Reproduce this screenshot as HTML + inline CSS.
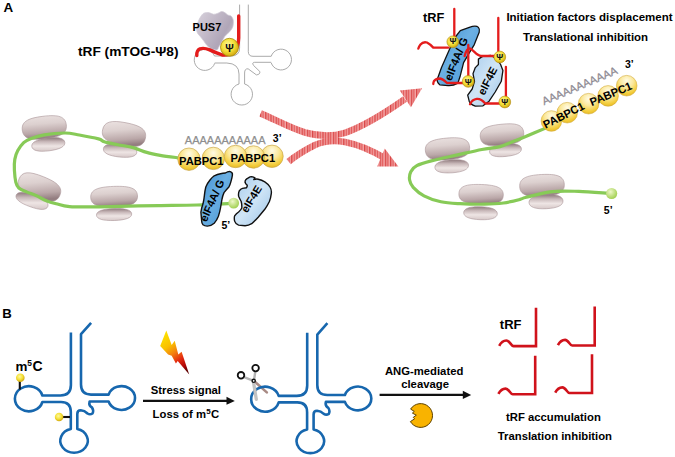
<!DOCTYPE html>
<html><head><meta charset="utf-8">
<style>
html,body{margin:0;padding:0;background:#fff;}
body{width:675px;height:457px;overflow:hidden;}
svg{display:block;}
text{font-family:"Liberation Sans",sans-serif;}
.b{font-weight:bold;}
</style></head>
<body>
<svg width="675" height="457" viewBox="0 0 675 457">
<defs>
  <linearGradient id="pus" x1="0" y1="0" x2="1" y2="0.6">
    <stop offset="0" stop-color="#d8d2dc"/>
    <stop offset="0.45" stop-color="#c2b9c8"/>
    <stop offset="0.8" stop-color="#b0a6b8"/>
    <stop offset="1" stop-color="#c4bcc9"/>
  </linearGradient>
  <linearGradient id="ribL" x1="0" y1="0" x2="0.15" y2="1">
    <stop offset="0" stop-color="#ebe2e1"/>
    <stop offset="0.4" stop-color="#dcd0cf"/>
    <stop offset="0.78" stop-color="#baa7a8"/>
    <stop offset="1" stop-color="#947e81"/>
  </linearGradient>
  <linearGradient id="ribS" x1="0" y1="0" x2="0" y2="1">
    <stop offset="0" stop-color="#8d787b"/>
    <stop offset="0.3" stop-color="#c8b8b9"/>
    <stop offset="0.62" stop-color="#eee5e4"/>
    <stop offset="1" stop-color="#d6c8c8"/>
  </linearGradient>
  <radialGradient id="yel" cx="0.42" cy="0.38" r="0.62">
    <stop offset="0" stop-color="#fdf7a0"/>
    <stop offset="0.55" stop-color="#f5e23a"/>
    <stop offset="1" stop-color="#d2a810"/>
  </radialGradient>
  <radialGradient id="pab" cx="0.5" cy="0.32" r="0.72" fx="0.5" fy="0.25">
    <stop offset="0" stop-color="#fffbe6"/>
    <stop offset="0.45" stop-color="#fbe89a"/>
    <stop offset="0.8" stop-color="#f3cc3a"/>
    <stop offset="1" stop-color="#e2b420"/>
  </radialGradient>
  <radialGradient id="gball" cx="0.4" cy="0.35" r="0.65">
    <stop offset="0" stop-color="#eef8c8"/>
    <stop offset="1" stop-color="#a2d052"/>
  </radialGradient>
  <linearGradient id="blueD" x1="0" y1="0" x2="1" y2="1">
    <stop offset="0" stop-color="#3b8cd0"/>
    <stop offset="0.45" stop-color="#6cb0e3"/>
    <stop offset="0.7" stop-color="#5aa3dc"/>
    <stop offset="1" stop-color="#3f8ed2"/>
  </linearGradient>
  <linearGradient id="blueL" x1="0" y1="0" x2="1" y2="1">
    <stop offset="0" stop-color="#a6cbec"/>
    <stop offset="0.5" stop-color="#d0e5f6"/>
    <stop offset="1" stop-color="#9cc4e8"/>
  </linearGradient>
  <linearGradient id="bolt" x1="0.25" y1="0" x2="0.75" y2="1">
    <stop offset="0" stop-color="#fde200"/>
    <stop offset="0.3" stop-color="#f9c000"/>
    <stop offset="0.5" stop-color="#f38010"/>
    <stop offset="0.7" stop-color="#e42a10"/>
    <stop offset="0.88" stop-color="#b00808"/>
    <stop offset="1" stop-color="#600000"/>
  </linearGradient>
  <pattern id="stripe" width="5.2" height="10" patternUnits="userSpaceOnUse">
    <rect width="5.2" height="10" fill="#f2a4a4"/>
    <rect x="0" width="1.3" height="10" fill="#d94444"/>
    <rect x="2.4" width="1.1" height="10" fill="#e25a5a"/>
    <rect x="3.5" width="0.8" height="10" fill="#ee8a8a"/>
  </pattern>
</defs>

<!-- ============ PANEL A ============ -->
<text x="3.6" y="12.2" class="b" font-size="13.4">A</text>

<!-- tRNA (grey thin) -->
<g fill="none" stroke="#a0a0a0" stroke-width="0.9">
  <path d="M239.6 4.6 V48 Q239.6 56 231 56 H214.5"/>
  <path d="M214.7 63.3 A10.5 10.5 0 1 1 214.5 56"/>
  <path d="M214.7 63 H226.8 Q239 63.5 239 74 V84"/>
  <path d="M239 84 A10.7 10.7 0 1 0 244.6 84"/>
  <path d="M244.6 84 V73 Q244.6 68.5 248.1 68.8 L256.4 74.9 Q260.4 74.5 259.8 71.5 L253.6 65.5 Q251.5 62.3 254.7 62.3 H271.2"/>
  <path d="M271.2 62.8 A10.4 10.4 0 1 0 271.2 56.3"/>
  <path d="M271.2 56.3 H253 Q248.3 56.3 248.3 51.5 V4.6"/>
</g>

<!-- PUS7 blob -->
<path d="M203.8 13.2 C205.2 12.5 207.6 12.5 209.2 12.7 C210.8 12.9 212.1 14.2 213.6 14.3 C215.1 14.4 216.7 13.6 218.0 13.2 C219.3 12.8 220.3 11.8 221.3 11.6 C222.3 11.4 222.9 11.5 224.0 12.1 C225.1 12.7 226.6 14.2 227.8 14.9 C229.0 15.6 230.2 15.1 231.1 16.0 C232.0 16.9 233.0 18.5 233.3 20.3 C233.6 22.1 233.4 25.1 232.8 26.9 C232.2 28.7 230.8 30.2 230.0 31.3 C229.2 32.4 228.7 32.6 227.8 33.5 C226.9 34.4 225.5 35.5 224.6 36.8 C223.7 38.1 223.3 39.5 222.4 41.1 C221.5 42.7 220.0 45.1 219.1 46.6 C218.2 48.1 218.2 49.5 216.9 49.9 C215.6 50.3 213.1 49.5 211.4 48.8 C209.8 48.1 208.3 46.8 207.0 45.5 C205.7 44.2 204.9 42.6 203.8 41.1 C202.7 39.6 201.6 38.2 200.5 36.8 C199.4 35.3 197.8 34.0 197.2 32.4 C196.5 30.8 196.4 28.7 196.6 26.9 C196.8 25.1 197.7 23.0 198.3 21.4 C199.0 19.8 199.6 18.4 200.5 17.0 C201.4 15.6 202.4 13.9 203.8 13.2 Z" fill="url(#pus)" stroke="#d0cad6" stroke-width="0.7"/>
<text x="192.6" y="30.5" class="b" font-size="11">PUS7</text>

<!-- red tRF on tRNA -->
<path d="M238.7 16 V38 Q238.4 48 234 52 Q229.4 55.5 222.8 55.1 Q216 53 209.7 49.9 Q204 47.5 200 48.8 Q196.5 50.5 196.8 55.5" fill="none" stroke="#e41c1c" stroke-width="3.4" stroke-linecap="round"/>
<circle cx="229.5" cy="47.3" r="9" fill="url(#yel)" stroke="#a88808" stroke-width="0.8"/>
<text x="229.6" y="51.6" font-size="10.5" class="b" text-anchor="middle" fill="#111">Ψ</text>

<text x="78" y="56.3" class="b" font-size="13.7">tRF (mTOG-Ψ8)</text>

<!-- crossing arrows -->
<g fill="none" stroke="url(#stripe)" stroke-width="6.6">
  <path d="M260.6 113.4 C 275 119.5, 290 128, 305 132.5 C 318 136, 332 137, 345 132.8 C 362 127, 385 113, 405 99"/>
  <path d="M288.6 161.6 C 296 155.5, 305 150, 315 145 C 325 140.5, 335 140.2, 345 142 C 358 144.5, 372 150.5, 386 158.8"/>
</g>
<g fill="url(#stripe)">
  <polygon points="399.8,90.4 422.1,88.3 410.9,107.2"/>
  <polygon points="384.7,148.4 398.4,166.5 377.2,166.5"/>
</g>

<!-- Left mRNA ribosomes -->
<g stroke="#a89296" stroke-width="0.6">
<path d="M66.3 124.8 C65.3 116.7 58.8 114.3 42.9 116.3 C27.1 118.2 21.3 122.1 22.3 130.2 C23.3 138.3 29.8 140.7 45.7 138.7 C61.5 136.8 67.3 132.9 66.3 124.8Z" fill="url(#ribL)"/>
<path d="M64.8 142.4 C64.3 138.2 58.2 136.7 47.5 138.0 C36.8 139.4 31.3 142.3 31.8 146.4 C32.3 150.6 38.4 152.1 49.1 150.8 C59.8 149.4 65.3 146.5 64.8 142.4Z" fill="url(#ribS)"/>
<path d="M145.4 138.2 C147.0 130.1 141.6 125.8 126.2 122.8 C110.8 119.8 104.2 121.8 102.6 129.8 C101.0 137.9 106.4 142.2 121.8 145.2 C137.2 148.2 143.8 146.2 145.4 138.2Z" fill="url(#ribL)"/>
<path d="M136.8 152.3 C137.2 148.1 131.6 145.2 120.8 144.0 C109.9 142.9 103.8 144.5 103.4 148.7 C103.0 152.9 108.6 155.8 119.4 157.0 C130.3 158.1 136.4 156.5 136.8 152.3Z" fill="url(#ribS)"/>
<path d="M59.9 195.2 C62.9 187.9 58.3 182.7 43.6 176.8 C28.9 170.9 22.1 171.4 19.1 178.8 C16.1 186.1 20.7 191.3 35.4 197.2 C50.1 203.1 56.9 202.6 59.9 195.2Z" fill="url(#ribL)"/>
<path d="M47.8 206.5 C49.2 202.8 44.4 198.7 34.1 195.0 C23.9 191.2 17.6 191.3 16.2 195.1 C14.8 198.8 19.6 202.9 29.9 206.6 C40.1 210.4 46.4 210.3 47.8 206.5Z" fill="url(#ribS)"/>
<path d="M137.5 195.9 C137.2 188.5 130.6 185.8 113.7 186.4 C96.9 187.0 90.5 190.1 90.7 197.5 C91.0 204.9 97.6 207.6 114.5 207.0 C131.3 206.4 137.7 203.3 137.5 195.9Z" fill="url(#ribL)"/>
<path d="M131.7 213.9 C131.6 210.0 125.3 208.1 113.9 208.5 C102.5 208.9 96.4 211.2 96.5 215.1 C96.6 219.0 102.9 220.9 114.3 220.5 C125.7 220.1 131.8 217.8 131.7 213.9Z" fill="url(#ribS)"/>
</g>
<path d="M178.0 157.8 C175.0 157.4 165.4 156.2 160.2 155.3 C155.0 154.4 151.2 153.7 146.7 152.4 C142.2 151.1 138.0 148.9 133.2 147.6 C128.4 146.3 122.6 145.7 117.8 144.7 C113.0 143.7 107.5 142.8 104.3 141.8 C101.1 140.8 102.7 140.0 98.5 138.9 C94.3 137.8 84.9 136.0 79.3 135.0 C73.7 134.0 70.8 133.0 65.0 133.0 C59.2 133.0 50.0 133.8 44.3 134.8 C38.6 135.8 34.0 137.5 30.6 138.8 C27.2 140.1 25.8 140.7 23.7 142.7 C21.6 144.7 19.3 147.8 17.8 150.6 C16.3 153.4 15.4 156.1 14.8 159.4 C14.2 162.7 14.2 166.4 14.4 170.2 C14.6 174.0 15.1 179.1 15.8 182.1 C16.5 185.1 17.0 186.4 18.8 188.0 C20.6 189.6 23.7 190.6 26.6 191.9 C29.6 193.2 33.2 194.3 36.5 195.8 C39.8 197.3 43.0 199.4 46.3 200.7 C49.6 202.0 52.3 202.7 56.2 203.7 C60.1 204.7 62.4 206.1 69.6 206.6 C76.8 207.1 89.4 206.9 99.3 206.8 C109.2 206.7 119.0 206.3 128.9 206.1 C138.8 205.9 147.2 205.8 158.5 205.6 C169.8 205.4 184.6 205.4 197.0 205.0 C209.4 204.6 227.0 203.6 233.0 203.3" fill="none" stroke="#87ca57" stroke-width="3.2" stroke-linecap="round" stroke-linejoin="round"/>

<!-- PABPC1 left -->
<text x="184.8" y="143.5" font-size="11" fill="#8e8e8e" stroke="#8e8e8e" stroke-width="0.25">AAAAAAAAAAA</text>
<text x="272.8" y="141.6" class="b" font-size="10.5">3’</text>
<g fill="url(#pab)" stroke="#c9a850" stroke-width="0.7">
  <circle cx="189" cy="159.2" r="11.2"/>
  <circle cx="213.3" cy="158.4" r="11.2"/>
  <circle cx="272" cy="156.3" r="11.2"/>
  <circle cx="253.5" cy="157" r="11.2"/>
  <circle cx="235.5" cy="156.5" r="11.2"/>
</g>
<text x="179" y="164.6" class="b" font-size="11.2">PABPC1</text>
<text x="230.6" y="161.8" class="b" font-size="11.2">PABPC1</text>

<!-- eIF4A/G left -->
<path d="M230.3 171.6 Q232.8 172.5 232.4 175.1 Q232 178 231 181.4 Q230.2 184.5 228.9 187 Q226 190 224 192.6 Q222.5 196 221.9 199.6 L220.5 208 Q219.7 212.5 218.4 216.3 Q216.8 220.5 214.2 223.3 Q211 226.2 207.2 226.1 Q204.5 226 203 224.7 Q201.6 223 201.6 220.5 L200.9 212.2 Q201.5 208 203 203.8 Q204 199.5 204.4 195.4 Q204.8 191 205.8 187 Q207.5 183 210 180 Q212 177.5 214.2 175.8 Q217.5 174.3 220.5 173.7 Q223 173.3 225.4 173 Q228 171.3 230.3 171.6 Z" fill="url(#blueD)" stroke="#111" stroke-width="1.4" stroke-linejoin="round"/>
<text transform="translate(206.6 222.4) rotate(-66.2)" class="b" font-size="11">eIF4A/ G</text>
<!-- eIF4E left -->
<path d="M251.7 176.6 Q253.6 176.8 254.9 177.9 L253.8 179.6 Q256 178.8 258.2 179.2 Q261.8 180 264.8 181.8 Q268.2 184 270 187 Q271.8 190 271.3 193.6 Q270.8 197.8 269.4 201.5 Q267.5 205.5 264.8 209.3 L258.2 217.2 Q255 220.8 251.7 223.7 Q248.5 225.6 245.1 225.7 L238.6 225.1 Q235.5 224 234.6 221.1 Q234 218 234.6 215.9 Q236.3 213.5 238.6 212 Q240.8 210 241.8 208 Q242 204.5 241.2 201.5 Q239.7 198.8 238.6 196.2 Q238.2 193 239.2 191 Q240.6 189 242.5 188.4 L246.4 187.7 Q247.6 186.2 247.1 185.1 Q245.6 184 245.1 182.5 Q244.9 180.8 245.8 179.8 Q247 178.5 248.4 177.9 Q250 176.6 251.7 176.6 Z" fill="url(#blueL)" stroke="#111" stroke-width="1.4" stroke-linejoin="round"/>
<text transform="translate(246.9 213.6) rotate(-58.4)" class="b" font-size="11">eIF4E</text>
<circle cx="233.7" cy="203.1" r="5.4" fill="url(#gball)"/>
<text x="221.5" y="228.5" class="b" font-size="10.5">5’</text>

<!-- Right side: tRF + factors -->
<text x="423" y="22.2" class="b" font-size="12.8">tRF</text>
<text x="506.4" y="20.8" class="b" font-size="11.5">Initiation factors displacement</text>
<text x="522.9" y="40.6" class="b" font-size="11.45">Translational inhibition</text>

<path d="M469.3 27.4 Q476 25 478.4 27.4 Q480 29 479.2 32.3 L474.3 44.6 L469.3 52.8 L463.6 62.6 L460.3 75.7 L457.9 83.1 Q453 86 448 85.6 L439.8 84.8 Q436.5 82 437.4 79 L441.5 67.5 L448 52.8 L454.6 38 L460.3 30.7 Z" fill="url(#blueD)" stroke="#111" stroke-width="1.3" stroke-linejoin="round"/>
<text transform="translate(451.2 81.4) rotate(-68)" class="b" font-size="11.2">eIF4A/ G</text>
<path d="M478.4 59.1 L483 56.1 L490.6 55.3 Q497 58 500.6 64.5 L502.9 70.6 L501.3 81.3 L495.2 92 L489.1 101.2 L483 105.8 L475.3 106.1 Q470 104 469.2 101.2 L467.7 95.1 L472.2 89 L474.5 81.3 L473 73.7 L475.3 67.6 L478.4 64.5 Z" fill="url(#blueL)" stroke="#111" stroke-width="1.3" stroke-linejoin="round"/>
<text transform="translate(484.2 96) rotate(-63)" class="b" font-size="11.2">eIF4E</text>

<g fill="none" stroke="#e41c1c" stroke-width="2.3" stroke-linecap="round" stroke-linejoin="round">
  <path d="M454.3 9 V38 M448.5 47.6 H433.3 Q430 44 427 42.5 Q423 41.5 420.5 44.5 Q419 46.5 418.3 48.6"/>
  <path d="M468.3 45 V80 M463 83 H447 Q443 79 440 78.5 Q436 78.5 434 81 Q433.3 82.5 433.3 84"/>
  <path d="M498.3 18 V56 M495 56 H481 C477.5 55.8 474.5 51.5 471 49 C468 47 465.8 51.5 464.6 56"/>
  <path d="M505.9 66.8 V101 M500 103.5 H485.3 Q481 98.5 476.8 98.9 Q472 99.5 470 104.3"/>
</g>
<g fill="url(#yel)" stroke="#b08a10" stroke-width="0.6">
  <circle cx="452.8" cy="41.8" r="5.9"/>
  <circle cx="468.2" cy="81.4" r="5.9"/>
  <circle cx="499.8" cy="57" r="5.9"/>
  <circle cx="504.8" cy="102" r="5.9"/>
</g>
<g font-size="8.6" class="b" text-anchor="middle" fill="#111">
  <text x="453" y="44.4">Ψ</text>
  <text x="468.2" y="84.5">Ψ</text>
  <text x="499.8" y="60.1">Ψ</text>
  <text x="504.8" y="105.1">Ψ</text>
</g>

<!-- Right mRNA -->
<g stroke="#a89296" stroke-width="0.6">
<path d="M469.6 147.0 C468.9 139.2 462.5 136.7 446.6 138.1 C430.6 139.5 424.7 143.1 425.4 150.8 C426.1 158.6 432.5 161.1 448.4 159.7 C464.4 158.3 470.3 154.7 469.6 147.0Z" fill="url(#ribL)"/>
<path d="M468.5 165.1 C468.2 160.9 462.1 159.1 451.2 159.8 C440.4 160.6 434.6 163.3 434.9 167.5 C435.2 171.7 441.3 173.5 452.2 172.8 C463.0 172.0 468.8 169.3 468.5 165.1Z" fill="url(#ribS)"/>
<path d="M523.7 132.5 C522.9 124.9 516.5 122.6 500.9 124.3 C485.3 125.9 479.5 129.5 480.3 137.1 C481.1 144.7 487.5 147.0 503.1 145.3 C518.7 143.7 524.5 140.1 523.7 132.5Z" fill="url(#ribL)"/>
<path d="M521.4 148.6 C521.0 144.7 515.2 143.1 504.9 144.2 C494.5 145.3 489.2 148.0 489.6 152.0 C490.0 155.9 495.8 157.5 506.1 156.4 C516.5 155.3 521.8 152.6 521.4 148.6Z" fill="url(#ribS)"/>
<path d="M503.3 195.3 C503.5 188.1 497.4 185.1 481.4 184.5 C465.5 183.9 459.2 186.5 458.9 193.7 C458.7 200.9 464.8 203.9 480.8 204.5 C496.7 205.1 503.0 202.5 503.3 195.3Z" fill="url(#ribL)"/>
<path d="M497.3 213.8 C497.4 209.6 491.6 207.1 480.7 206.7 C469.8 206.3 463.9 208.4 463.7 212.6 C463.6 216.8 469.4 219.3 480.3 219.7 C491.2 220.1 497.1 218.0 497.3 213.8Z" fill="url(#ribS)"/>
<path d="M564.3 184.3 C563.9 176.4 557.5 173.7 541.4 174.5 C525.4 175.4 519.3 178.8 519.7 186.7 C520.1 194.6 526.5 197.3 542.6 196.5 C558.6 195.6 564.7 192.2 564.3 184.3Z" fill="url(#ribL)"/>
<path d="M563.0 200.8 C562.7 196.3 556.7 194.1 545.6 194.7 C534.6 195.3 528.8 198.0 529.0 202.6 C529.3 207.1 535.3 209.3 546.4 208.7 C557.4 208.1 563.2 205.4 563.0 200.8Z" fill="url(#ribS)"/>
</g>
<path d="M545.0 128.4 C541.9 129.7 531.6 134.1 526.3 136.3 C521.0 138.5 517.5 139.8 513.1 141.5 C508.7 143.2 505.2 145.3 500.0 146.6 C494.8 147.9 488.9 148.1 481.8 149.5 C474.8 150.9 466.1 153.0 457.7 154.9 C449.3 156.8 438.1 159.1 431.3 160.9 C424.5 162.7 420.2 163.9 416.8 165.7 C413.4 167.5 412.0 169.3 410.8 171.7 C409.6 174.1 409.2 177.5 409.6 180.1 C410.0 182.7 410.8 184.7 413.2 187.3 C415.6 189.9 419.4 193.4 424.0 195.8 C428.6 198.2 434.9 200.5 440.9 201.8 C446.9 203.1 452.9 203.3 460.1 203.7 C467.3 204.1 477.0 204.3 484.2 204.2 C491.4 204.1 497.4 203.8 503.4 203.0 C509.4 202.2 516.2 200.4 520.0 199.4 C523.8 198.4 520.9 198.5 526.3 197.2 C531.7 195.9 543.8 192.6 552.5 191.6 C561.2 190.6 568.9 191.1 578.8 191.4 C588.6 191.7 606.1 193.2 611.6 193.5" fill="none" stroke="#87ca57" stroke-width="3.2" stroke-linecap="round" stroke-linejoin="round"/>
<circle cx="611.6" cy="193.5" r="5.6" fill="url(#gball)"/>
<text x="603.8" y="213.5" class="b" font-size="10.5">5’</text>

<text transform="translate(544 105.2) rotate(-23.2)" font-size="11" fill="#8e8a92" stroke="#8e8a92" stroke-width="0.25">AAAAAAAAAAA</text>
<text x="625" y="68.4" class="b" font-size="10.5">3’</text>
<g fill="url(#pab)" stroke="#d4ab3a" stroke-width="0.6">
  <circle cx="551.4" cy="121" r="10.3"/>
  <circle cx="567.2" cy="112.7" r="10.3"/>
  <circle cx="588.6" cy="103.7" r="10.3"/>
  <circle cx="608.1" cy="95.9" r="10.3"/>
  <circle cx="626.7" cy="85.7" r="10.3"/>
</g>
<text transform="translate(545.6 128.8) rotate(-27)" class="b" font-size="11.2">PABPC1</text>
<text transform="translate(591.8 106.2) rotate(-23)" class="b" font-size="11.2">PABPC1</text>

<!-- ============ PANEL B ============ -->
<text x="2.2" y="317.6" class="b" font-size="13.2">B</text>

<!-- tRNA 1 -->
<g fill="none" stroke="#1767ae" stroke-width="2.6" stroke-linejoin="round">
  <path d="M70.9 332.4 V385 Q70.9 395.5 60.4 395.5 H42.4 A14 12.5 0 1 0 42.4 402 H61 Q70.8 402 70.8 411.8 V429.1 A13.75 12 0 1 0 77.3 429.1 V414 Q77.3 410.3 80.8 410.3 Q84.5 410.5 87.5 413.5 Q90 415 92.5 413.5 Q94 410.5 92 407.5 Q88.5 405.5 89.6 401.5 H108.6 A13.5 11.9 0 1 0 108.6 394.6 H91 Q81 394.6 81 384.6 V334.2 L91.1 322.8"/>
</g>
<path d="M19.8 380.5 V389.5" stroke="#111" stroke-width="2.1"/>
<circle cx="20.3" cy="377.7" r="4.3" fill="url(#yel)"/>
<path d="M62 417 H70" stroke="#111" stroke-width="2.1"/>
<circle cx="59.1" cy="417" r="4.3" fill="url(#yel)"/>
<text x="15.6" y="370.7" class="b" font-size="13.4">m<tspan font-size="8.4" dy="-4.4" dx="-0.2">5</tspan><tspan dy="4.4" dx="0.6" font-size="14">C</tspan></text>

<!-- lightning -->
<polygon points="166.3,330.4 171.7,344.9 174.7,340.7 178.3,354.5 181.6,351.7 189.2,374.4 177.7,361.1 175.9,363.6 171.7,355.7 168.1,354.5 160.2,346.1" fill="url(#bolt)"/>

<text x="150.7" y="393.5" class="b" font-size="11.3">Stress signal</text>
<path d="M143 400.9 H228" stroke="#111" stroke-width="2.4"/>
<polygon points="226.5,396.8 234.8,400.9 226.5,404.8" fill="#111"/>
<text x="152.6" y="418" class="b" font-size="11.3">Loss of m<tspan font-size="8" dy="-4.2" dx="0.3">5</tspan><tspan dy="4.2" dx="0.4">C</tspan></text>

<!-- tRNA 2 -->
<path d="M254.6 381.5 L266.8 392.4" stroke="#a88a84" stroke-width="2.6" fill="none" stroke-linecap="round"/>
<g transform="translate(236.3 0.4)" fill="none" stroke="#1767ae" stroke-width="2.6" stroke-linejoin="round">
  <path d="M70.9 332.4 V385 Q70.9 395.5 60.4 395.5 H42.4 A14 12.5 0 1 0 42.4 402 H61 Q70.8 402 70.8 411.8 V429.1 A13.75 12 0 1 0 77.3 429.1 V414 Q77.3 410.3 80.8 410.3 Q84.5 410.5 87.5 413.5 Q90 415 92.5 413.5 Q94 410.5 92 407.5 Q88.5 405.5 89.6 401.5 H108.6 A13.5 11.9 0 1 0 108.6 394.6 H91 Q81 394.6 81 384.6 V334.2 L91.1 322.8"/>
</g>
<!-- scissors -->
<g>
  <path d="M253.4 381.5 L256.3 399.3" stroke="#c2c2c2" stroke-width="3.3" fill="none" stroke-linecap="round"/>
  <path d="M243.5 376.8 L253.5 380.8" stroke="#b4b4b4" stroke-width="2.4" fill="none" stroke-linecap="round"/>
  <path d="M255.3 371.5 L254 380.5" stroke="#b4b4b4" stroke-width="2.4" fill="none" stroke-linecap="round"/>
  <circle cx="241" cy="375.3" r="3.3" fill="#fff" stroke="#111" stroke-width="1.8"/>
  <circle cx="255.6" cy="368.1" r="3.3" fill="#fff" stroke="#111" stroke-width="1.8"/>
  <circle cx="253.7" cy="380.8" r="1.6" fill="#fff" stroke="#111" stroke-width="1.4"/>
</g>

<text x="384.9" y="375.1" class="b" font-size="11.3">ANG-mediated</text>
<text x="401.2" y="388.3" class="b" font-size="11.3">cleavage</text>
<path d="M379.6 394.9 H464" stroke="#111" stroke-width="2.4"/>
<polygon points="462.8,390.8 471.2,394.9 462.8,399" fill="#111"/>
<!-- pacman -->
<path d="M410.6 409.1 A11.9 11.9 0 1 1 410.4 421.6 L414.6 418.8 L413.2 417.4 L416.3 415.2 L412.4 413.1 L414.3 411.4 Z" fill="#f9b300" stroke="#5e4200" stroke-width="1" stroke-linejoin="round"/>

<!-- tRF fragments -->
<text x="499.8" y="328.5" class="b" font-size="13">tRF</text>
<g fill="none" stroke="#d0121b" stroke-width="2.6">
  <path d="M536 307.7 V346.1 H513.5 C511.0 346.1 509.8 340.5 506.4 340.5 C503.0 340.5 500.6 343.1 499.2 345.8"/>
  <path d="M594.7 306.6 V345.5 H572.2 C569.7 345.5 568.5 339.9 565.1 339.9 C561.7 339.9 559.3 342.5 557.9 345.2"/>
  <path d="M535.2 355.8 V394.2 H512.7 C510.2 394.2 509.0 388.6 505.6 388.6 C502.2 388.6 499.8 391.2 498.4 393.9"/>
  <path d="M592 354.3 V393 H569.5 C567.0 393 565.8 387.4 562.4 387.4 C559.0 387.4 556.6 390.0 555.2 392.7"/>
</g>
<text x="506" y="421.1" class="b" font-size="11.3">tRF accumulation</text>
<text x="497.8" y="440" class="b" font-size="11.3">Translation inhibition</text>
</svg>
</body></html>
